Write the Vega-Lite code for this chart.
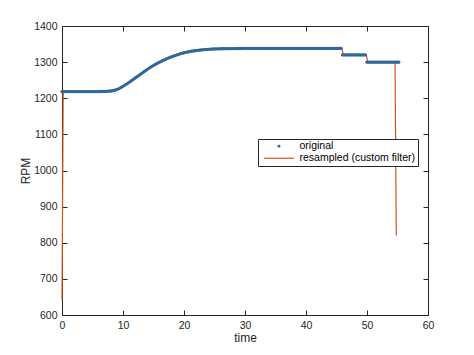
{
  "$schema": "https://vega.github.io/schema/vega-lite/v6.json",
  "width": 366,
  "height": 289,
  "autosize": {"type": "none"},
  "padding": {"left": 62, "top": 26, "right": 46, "bottom": 40},
  "background": "white",
  "config": {
    "view": {"stroke": "#262626", "strokeWidth": 1},
    "font": "Liberation Sans",
    "axis": {
      "domain": false,
      "grid": false,
      "labelFlush": false,
      "labelOverlap": false,
      "tickColor": "#262626",
      "tickSize": -5,
      "tickWidth": 1,
      "labelColor": "#262626",
      "labelFontSize": 10.5,
      "labelFont": "Liberation Sans",
      "titleColor": "#262626",
      "titleFontSize": 12,
      "titleFont": "Liberation Sans",
      "titleFontWeight": "normal",
      "format": "d"
    }
  },
  "datasets": {
    "orig": [
      {"t":0,"v":1218.5},{"t":0.25,"v":1218.5},{"t":0.5,"v":1218.5},{"t":0.75,"v":1218.5},{"t":1,"v":1218.5},{"t":1.25,"v":1218.5},{"t":1.5,"v":1218.5},{"t":1.75,"v":1218.5},
      {"t":2,"v":1218.5},{"t":2.25,"v":1218.5},{"t":2.5,"v":1218.5},{"t":2.75,"v":1218.5},{"t":3,"v":1218.5},{"t":3.25,"v":1218.5},{"t":3.5,"v":1218.5},{"t":3.75,"v":1218.5},
      {"t":4,"v":1218.5},{"t":4.25,"v":1218.5},{"t":4.5,"v":1218.5},{"t":4.75,"v":1218.5},{"t":5,"v":1218.5},{"t":5.25,"v":1218.5},{"t":5.5,"v":1218.5},{"t":5.75,"v":1218.5},
      {"t":6,"v":1218.6},{"t":6.25,"v":1218.7},{"t":6.5,"v":1218.8},{"t":6.75,"v":1218.9},
      {"t":7,"v":1219},{"t":7.25,"v":1219.2},{"t":7.5,"v":1219.5},{"t":7.75,"v":1219.7},
      {"t":8,"v":1220},{"t":8.25,"v":1220.8},{"t":8.5,"v":1221.8},{"t":8.75,"v":1222.9},
      {"t":9,"v":1224},{"t":9.25,"v":1226},{"t":9.5,"v":1228.2},{"t":9.75,"v":1230.6},
      {"t":10,"v":1233},{"t":10.25,"v":1235.7},{"t":10.5,"v":1238.5},{"t":10.75,"v":1241.2},
      {"t":11,"v":1244},{"t":11.25,"v":1247},{"t":11.5,"v":1250},{"t":11.75,"v":1253},
      {"t":12,"v":1256},{"t":12.25,"v":1259},{"t":12.5,"v":1262},{"t":12.75,"v":1265},
      {"t":13,"v":1268},{"t":13.25,"v":1271},{"t":13.5,"v":1274},{"t":13.75,"v":1277},
      {"t":14,"v":1280},{"t":14.25,"v":1282.8},{"t":14.5,"v":1285.6},{"t":14.75,"v":1288.3},
      {"t":15,"v":1291},{"t":15.25,"v":1293.3},{"t":15.5,"v":1295.5},{"t":15.75,"v":1297.8},
      {"t":16,"v":1300},{"t":16.25,"v":1302},{"t":16.5,"v":1304},{"t":16.75,"v":1306},
      {"t":17,"v":1308},{"t":17.25,"v":1309.8},{"t":17.5,"v":1311.6},{"t":17.75,"v":1313.3},
      {"t":18,"v":1315},{"t":18.25,"v":1316.6},{"t":18.5,"v":1318.1},{"t":18.75,"v":1319.6},
      {"t":19,"v":1321},{"t":19.25,"v":1322.3},{"t":19.5,"v":1323.6},{"t":19.75,"v":1324.8},
      {"t":20,"v":1326},{"t":20.25,"v":1327},{"t":20.5,"v":1327.9},{"t":20.75,"v":1328.7},
      {"t":21,"v":1329.5},{"t":21.25,"v":1330.2},{"t":21.5,"v":1330.8},{"t":21.75,"v":1331.4},
      {"t":22,"v":1332},{"t":22.25,"v":1332.5},{"t":22.5,"v":1333},{"t":22.75,"v":1333.5},
      {"t":23,"v":1334},{"t":23.25,"v":1334.4},{"t":23.5,"v":1334.8},{"t":23.75,"v":1335.2},
      {"t":24,"v":1335.5},{"t":24.25,"v":1335.8},{"t":24.5,"v":1336},{"t":24.75,"v":1336.3},
      {"t":25,"v":1336.5},{"t":25.25,"v":1336.6},{"t":25.5,"v":1336.8},{"t":25.75,"v":1336.9},
      {"t":26,"v":1337},{"t":26.25,"v":1337.1},{"t":26.5,"v":1337.2},{"t":26.75,"v":1337.2},
      {"t":27,"v":1337.3},{"t":27.25,"v":1337.3},{"t":27.5,"v":1337.4},{"t":27.75,"v":1337.4},
      {"t":28,"v":1337.5},{"t":28.25,"v":1337.6},{"t":28.5,"v":1337.6},{"t":28.75,"v":1337.7},
      {"t":29,"v":1337.7},{"t":29.25,"v":1337.8},{"t":29.5,"v":1337.8},{"t":29.75,"v":1337.9},
      {"t":30,"v":1338},{"t":30.25,"v":1338},{"t":30.5,"v":1338},{"t":30.75,"v":1338},
      {"t":31,"v":1338},{"t":31.25,"v":1338},{"t":31.5,"v":1338},{"t":31.75,"v":1338},
      {"t":32,"v":1338},{"t":32.25,"v":1338},{"t":32.5,"v":1338},{"t":32.75,"v":1338},
      {"t":33,"v":1338},{"t":33.25,"v":1338},{"t":33.5,"v":1338},{"t":33.75,"v":1338},
      {"t":34,"v":1338},{"t":34.25,"v":1338},{"t":34.5,"v":1338},{"t":34.75,"v":1338},
      {"t":35,"v":1338},{"t":35.25,"v":1338},{"t":35.5,"v":1338},{"t":35.75,"v":1338},
      {"t":36,"v":1338},{"t":36.25,"v":1338},{"t":36.5,"v":1338},{"t":36.75,"v":1338},
      {"t":37,"v":1338},{"t":37.25,"v":1338},{"t":37.5,"v":1338},{"t":37.75,"v":1338},
      {"t":38,"v":1338},{"t":38.25,"v":1338},{"t":38.5,"v":1338},{"t":38.75,"v":1338},
      {"t":39,"v":1338},{"t":39.25,"v":1338},{"t":39.5,"v":1338},{"t":39.75,"v":1338},
      {"t":40,"v":1338},{"t":40.25,"v":1338},{"t":40.5,"v":1338},{"t":40.75,"v":1338},
      {"t":41,"v":1338},{"t":41.25,"v":1338},{"t":41.5,"v":1338},{"t":41.75,"v":1338},
      {"t":42,"v":1338},{"t":42.25,"v":1338},{"t":42.5,"v":1338},{"t":42.75,"v":1338},
      {"t":43,"v":1338},{"t":43.25,"v":1338},{"t":43.5,"v":1338},{"t":43.75,"v":1338},
      {"t":44,"v":1338},{"t":44.25,"v":1338},{"t":44.5,"v":1338},{"t":44.75,"v":1338},
      {"t":45,"v":1338},{"t":45.25,"v":1338},{"t":45.5,"v":1338},{"t":45.75,"v":1338},
      {"t":46,"v":1320},{"t":46.25,"v":1320},{"t":46.5,"v":1320},{"t":46.75,"v":1320},
      {"t":47,"v":1320},{"t":47.25,"v":1320},{"t":47.5,"v":1320},{"t":47.75,"v":1320},
      {"t":48,"v":1320},{"t":48.25,"v":1320},{"t":48.5,"v":1320},{"t":48.75,"v":1320},
      {"t":49,"v":1320},{"t":49.25,"v":1320},{"t":49.5,"v":1320},{"t":49.75,"v":1320},
      {"t":50,"v":1300},{"t":50.25,"v":1300},{"t":50.5,"v":1300},{"t":50.75,"v":1300},
      {"t":51,"v":1300},{"t":51.25,"v":1300},{"t":51.5,"v":1300},{"t":51.75,"v":1300},
      {"t":52,"v":1300},{"t":52.25,"v":1300},{"t":52.5,"v":1300},{"t":52.75,"v":1300},
      {"t":53,"v":1300},{"t":53.25,"v":1300},{"t":53.5,"v":1300},{"t":53.75,"v":1300},
      {"t":54,"v":1300},{"t":54.25,"v":1300},{"t":54.5,"v":1300},{"t":54.75,"v":1300},
      {"t":55,"v":1300},{"t":55.2,"v":1300}
    ],
    "res": [
      {"t":0,"v":640},{"t":0.2,"v":1218},{"t":1,"v":1218.5},{"t":7,"v":1219},{"t":8,"v":1220},{"t":9,"v":1224},
      {"t":10,"v":1233},{"t":11,"v":1244},{"t":12,"v":1256},{"t":13,"v":1268},{"t":14,"v":1280},{"t":15,"v":1291},
      {"t":16,"v":1300},{"t":17,"v":1308},{"t":18,"v":1315},{"t":19,"v":1321},{"t":20,"v":1326},{"t":21,"v":1329.5},
      {"t":22,"v":1332},{"t":23,"v":1334},{"t":24,"v":1335.5},{"t":25,"v":1336.5},{"t":26,"v":1337},{"t":28,"v":1337.5},
      {"t":30,"v":1338},{"t":45.9,"v":1338},{"t":46.1,"v":1320},{"t":49.9,"v":1320},{"t":50.1,"v":1300},
      {"t":54.6,"v":1300},{"t":54.8,"v":820}
    ]
  },
  "layer": [
    {
      "data": {"name": "res"},
      "mark": {"type": "line", "strokeWidth": 1.2, "interpolate": "linear"},
      "encoding": {
        "x": {"field": "t", "type": "quantitative", "scale": {"domain": [0, 60], "nice": false},
              "axis": {"orient": "top", "labels": false, "title": null, "values": [0,10,20,30,40,50,60]}},
        "y": {"field": "v", "type": "quantitative", "scale": {"domain": [600, 1400], "nice": false, "zero": false},
              "axis": {"orient": "right", "labels": false, "title": null, "values": [600,700,800,900,1000,1100,1200,1300,1400]}},
        "color": {"datum": "resampled (custom filter)", "type": "nominal"}
      }
    },
    {
      "data": {"name": "orig"},
      "mark": {"type": "point", "filled": true, "size": 11, "opacity": 1},
      "encoding": {
        "x": {"field": "t", "type": "quantitative", "scale": {"domain": [0, 60], "nice": false},
              "axis": {"orient": "bottom", "title": "time", "values": [0,10,20,30,40,50,60], "labelPadding": 10, "titlePadding": 2}},
        "y": {"field": "v", "type": "quantitative", "scale": {"domain": [600, 1400], "nice": false, "zero": false},
              "axis": {"orient": "left", "title": "RPM", "values": [600,700,800,900,1000,1100,1200,1300,1400], "labelPadding": 10, "titlePadding": 1}},
        "color": {
          "datum": "original", "type": "nominal",
          "scale": {"domain": ["original", "resampled (custom filter)"], "range": ["#2f6898", "#D95319"]},
          "legend": {
            "title": null,
            "orient": "none",
            "legendX": 196,
            "legendY": 113,
            "strokeColor": "#262626",
            "fillColor": "white",
            "padding": 2,
            "rowPadding": 1,
            "labelFontSize": 10.5,
            "labelFont": "Liberation Sans",
            "labelColor": "#000000",
            "labelOffset": 29,
            "symbolSize": 900,
            "symbolStrokeWidth": 1.2,
            "encoding": {
              "symbols": {
                "x": {"value": 19},
                "shape": {"value": {"signal": "datum.value === 'original' ? 'circle' : 'stroke'"}},
                "size": {"value": {"signal": "datum.value === 'original' ? 8 : 900"}},
                "stroke": {"value": {"signal": "scale('color', datum.value)"}},
                "fill": {"value": {"signal": "scale('color', datum.value)"}},
                "strokeWidth": {"value": {"signal": "datum.value === 'original' ? 0 : 1.2"}}
              }
            }
          }
        }
      }
    }
  ],
  "resolve": {"axis": {"x": "independent", "y": "independent"}}
}
